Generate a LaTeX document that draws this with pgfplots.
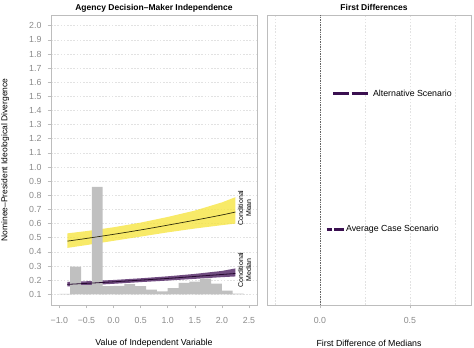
\documentclass[border=0pt]{standalone}
\usepackage{fontspec}
\setmainfont{Liberation Sans}
\usepackage{pgfplots}
\pgfplotsset{compat=1.18}
\usepgfplotslibrary{fillbetween}
\definecolor{histgray}{HTML}{C0C0C0}
\definecolor{ylw}{HTML}{F6E43E}
\definecolor{meanline}{HTML}{2E2B0A}
\definecolor{purp}{HTML}{4E2062}
\definecolor{medline}{HTML}{26092F}
\definecolor{segcol}{HTML}{3A1050}
\definecolor{framegray}{HTML}{BDBDBD}
\definecolor{ticklab}{HTML}{8A8A8A}
\definecolor{gridgray}{HTML}{E2E2E2}
\pgfplotsset{
  every axis/.append style={
    scale only axis, anchor=south west,
    font=\fontsize{8.8}{10}\selectfont,
    axis line style={framegray, line width=0.6pt},
    tick style={framegray, line width=0.6pt},
    major tick length=3.5pt,
    tick align=outside, tick pos=left,
    tick label style={font=\fontsize{8.8}{10}\selectfont, text=ticklab},
    /pgf/number format/assume math mode=true,
    every axis title shift=0pt,
    title style={font=\bfseries\fontsize{8.5}{10}\selectfont, at={(axis description cs:0.5,1)}, anchor=base, yshift=4.5pt},
    xlabel style={at={(axis description cs:0.5,-0.131)}, anchor=center},
    xticklabel style={yshift=-5pt},
  }
}
\begin{document}
\begin{tikzpicture}
% ---------------- left panel ----------------
\begin{axis}[
  at={(51pt,43pt)}, width=206pt, height=290pt,
  xmin=-1.154, xmax=2.648, ymin=0.024, ymax=2.076,
  xtick={-1,-0.5,0,0.5,1,1.5,2,2.5},
  xticklabels={−1.0,−0.5,0.0,0.5,1.0,1.5,2.0,2.5},
  ytick={0.1,0.2,0.3,0.4,0.5,0.6,0.7,0.8,0.9,1.0,1.1,1.2,1.3,1.4,1.5,1.6,1.7,1.8,1.9,2.0},
  yticklabels={0.1,0.2,0.3,0.4,0.5,0.6,0.7,0.8,0.9,1.0,1.1,1.2,1.3,1.4,1.5,1.6,1.7,1.8,1.9,2.0},
  yticklabel style={xshift=-2.5pt},
  ymajorgrids, grid style={dash pattern=on 1.6pt off 1.6pt, gridgray, line width=0.6pt},
  title={Agency Decision–Maker Independence},
  xlabel={Value of Independent Variable},
  ylabel={Nominee–President Ideological Divergence},
  ylabel style={at={(axis description cs:-0.223,0.5)}, anchor=center, font=\fontsize{8.5}{10}\selectfont},
]
% histogram of the independent variable (baseline 0.1)
\addplot[fill=histgray, draw=none] coordinates {
 (-1.0,0.1) (-1.0,0.103) (-0.8,0.103) (-0.8,0.295) (-0.6,0.295) (-0.6,0.165)
 (-0.4,0.165) (-0.4,0.86) (-0.2,0.86) (-0.2,0.157) (0.0,0.157) (0.0,0.16)
 (0.2,0.16) (0.2,0.172) (0.4,0.172) (0.4,0.157) (0.6,0.157) (0.6,0.133)
 (0.8,0.133) (0.8,0.12) (1.0,0.12) (1.0,0.143) (1.2,0.143) (1.2,0.18)
 (1.4,0.18) (1.4,0.19) (1.6,0.19) (1.6,0.21) (1.8,0.21) (1.8,0.175)
 (2.0,0.175) (2.0,0.125) (2.2,0.125) (2.2,0.105) (2.4,0.105) (2.4,0.1)
};
% conditional mean band
\addplot[draw=none, name path=mu] coordinates {
 (-0.85,0.531) (-0.5,0.547) (0,0.574) (0.5,0.607) (1.0,0.647) (1.5,0.692) (2.0,0.750) (2.25,0.787)};
\addplot[draw=none, name path=ml] coordinates {
 (-0.85,0.428) (-0.5,0.448) (0,0.478) (0.5,0.508) (1.0,0.538) (1.5,0.565) (2.0,0.589) (2.25,0.600)};
\addplot[fill=ylw, fill opacity=0.78, draw=none] fill between[of=mu and ml];
\addplot[meanline, line width=0.7pt, smooth] coordinates {
 (-0.85,0.476) (-0.5,0.495) (0,0.524) (0.5,0.555) (1.0,0.589) (1.5,0.624) (2.0,0.661) (2.25,0.682)};
% conditional median band
\addplot[draw=none, name path=du] coordinates {
 (-0.85,0.188) (-0.5,0.192) (0,0.201) (0.5,0.213) (1.0,0.227) (1.5,0.244) (2.0,0.265) (2.25,0.283)};
\addplot[draw=none, name path=dl] coordinates {
 (-0.85,0.155) (-0.5,0.163) (0,0.174) (0.5,0.186) (1.0,0.197) (1.5,0.209) (2.0,0.221) (2.25,0.226)};
\addplot[fill=purp, fill opacity=0.8, draw=none] fill between[of=du and dl];
\addplot[medline, line width=0.8pt, smooth] coordinates {
 (-0.85,0.170) (-0.5,0.177) (0,0.188) (0.5,0.200) (1.0,0.212) (1.5,0.226) (2.0,0.240) (2.25,0.247)};
\node[rotate=90, align=center, inner sep=0pt, font=\fontsize{7}{8}\selectfont] at (axis cs:2.42,0.71) {Conditional\\Mean};
\node[rotate=90, align=center, inner sep=0pt, font=\fontsize{7}{8}\selectfont] at (axis cs:2.42,0.272) {Conditional\\Median};
\end{axis}
% ---------------- right panel ----------------
\begin{axis}[
  at={(267pt,43pt)}, width=204pt, height=290pt,
  xmin=-0.294, xmax=0.839, ymin=0, ymax=1,
  xtick={0,0.5}, xticklabels={0.0,0.5},
  ytick=\empty,
  minor xtick={-0.25,0.25,0.75},
  xmajorgrids, xminorgrids,
  grid style={dash pattern=on 1.6pt off 1.6pt, gridgray, line width=0.6pt},
  minor tick length=0pt,
  title={First Differences},
  title style={xshift=5pt},
  xlabel={First Difference of Medians},
]
\addplot[dash pattern=on 0.8pt off 0.9pt, black!60, line width=0.7pt] coordinates {(0,0) (0,1)};
\addplot[segcol, line width=3pt, line cap=butt] coordinates {(0.074,0.730) (0.163,0.730)};
\addplot[segcol, line width=3pt, line cap=butt] coordinates {(0.176,0.730) (0.268,0.730)};
\addplot[segcol, line width=3pt, line cap=butt] coordinates {(0.037,0.262) (0.068,0.262)};
\addplot[segcol, line width=3pt, line cap=butt] coordinates {(0.078,0.262) (0.135,0.262)};
\node[anchor=west, inner sep=0pt] at (axis cs:0.294,0.730) {Alternative Scenario};
\node[anchor=west, inner sep=0pt] at (axis cs:0.144,0.262) {Average Case Scenario};
\end{axis}
\pgfresetboundingbox
\path (0,0) rectangle (474pt,348pt);
\end{tikzpicture}
\end{document}
